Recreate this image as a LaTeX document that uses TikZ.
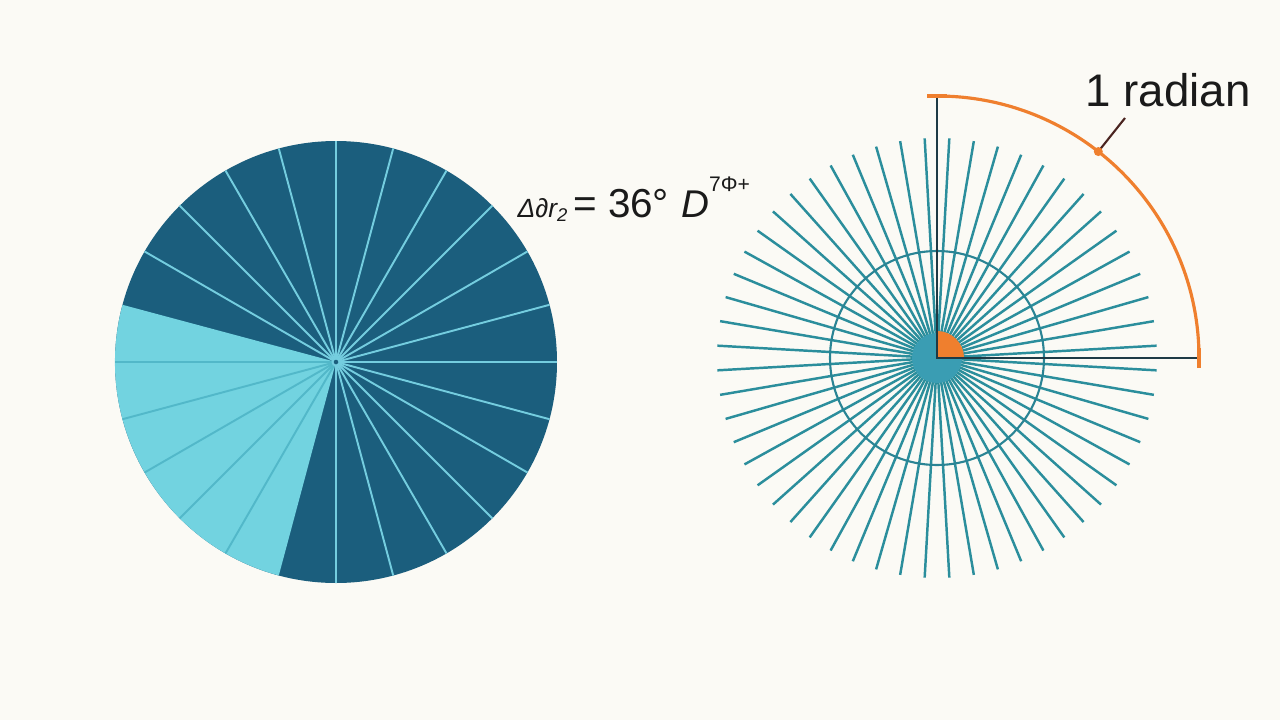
\documentclass[tikz,border=0pt]{standalone}
\usepackage{fontspec}
\setmainfont{Liberation Sans}
\usetikzlibrary{calc}
\definecolor{bgc}{HTML}{FBFAF5}
\definecolor{pdark}{HTML}{1B5E7D}
\definecolor{plight}{HTML}{72D3E0}
\definecolor{spokec}{HTML}{74CDDF}
\definecolor{spokelc}{HTML}{52B8C9}
\definecolor{rayc}{HTML}{2B8E9C}
\definecolor{ringc}{HTML}{2A8494}
\definecolor{hubc}{HTML}{3A9DB3}
\definecolor{orng}{HTML}{EF7F2E}
\definecolor{axisc}{HTML}{1E3A45}
\definecolor{ptrc}{HTML}{4A2420}
\definecolor{txt}{HTML}{1A1A1A}
\tikzset{
  spoke/.style={draw=spokec, line width=0.55pt},
  spokel/.style={draw=spokelc, line width=0.55pt},
  ray/.style={draw=rayc, line width=0.7pt},
  ringline/.style={draw=ringc, line width=0.6pt},
  axisline/.style={draw=axisc, line width=0.75pt},
  arcline/.style={draw=orng, line width=0.9pt},
  tickline/.style={draw=orng, line width=1.3pt},
  ptrline/.style={draw=ptrc, line width=0.6pt},
}
\begin{document}
\begin{tikzpicture}[x=0.1mm,y=0.1mm]
\fill[bgc] (0,0) rectangle (1280,720);
\useasboundingbox (0,0) rectangle (1280,720);
% left pie
\coordinate (L) at (336,358);
\fill[pdark] (L) circle[radius=221];
\fill[plight] (L) -- ++(165:221) arc[start angle=165,end angle=255,radius=221] -- cycle;
\foreach \a in {0,15,...,150,270,285,...,345} \draw[spoke] (L) -- ++(\a:221);
\foreach \a in {180,195,...,240} \draw[spokel] (L) -- ++(\a:221);
\draw[spoke, fill=pdark] (L) circle[radius=3.5];
% right starburst
\coordinate (R) at (937,362);
\foreach \i in {0,...,55} \draw[ray] (R) -- ++({90+360/56*(\i+0.5)}:220);
\draw[ringline] (R) circle[radius=107];
\fill[hubc] (R) circle[radius=25];
\fill[orng] (R) -- ++(0:27) arc[start angle=0,end angle=90,radius=27] -- cycle;
\coordinate (T) at (937,624);
\coordinate (E) at (1199,362);
\draw[axisline] (T) -- (R) -- (E);
\draw[arcline] (T) arc[start angle=90,end angle=0,radius=262];
\draw[tickline] ($(T)+(-10,0)$) -- ($(T)+(10,0)$);
\draw[tickline] ($(E)+(0,-10)$) -- ($(E)+(0,10)$);
\coordinate (D) at ($(R)+(52:262)$);
\coordinate (P) at (1125,602);
\draw[ptrline] (D) -- (P);
\fill[orng] (D) circle[radius=4.5];
\node[anchor=west, inner sep=0pt, text=txt, font=\fontsize{13}{15}\selectfont] (lab) at (1085,630) {1 radian};
% formula
\node[anchor=west, inner sep=0pt, text=txt] (eq) at (517,521)
  {{\fontsize{7.5}{9}\selectfont\itshape Δ∂r\textsubscript{2}}\hspace{0.4mm}{\fontsize{11.5}{14}\selectfont= 36°}\hspace{1.2mm}{\fontsize{11}{14}\selectfont\itshape D}\raisebox{1.4ex}{\fontsize{6}{7}\selectfont 7Φ+}};
\end{tikzpicture}
\end{document}
